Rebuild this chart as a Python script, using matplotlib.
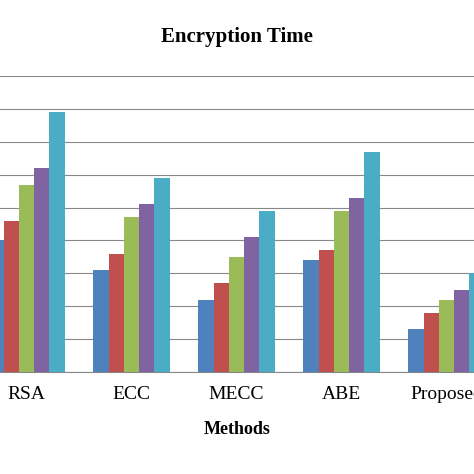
import numpy as np
import matplotlib.pyplot as plt

methods = ["RSA", "ECC", "MECC", "ABE", "Proposed"]
s1 = [4.0, 3.1, 2.2, 3.4, 1.3]
s2 = [4.6, 3.6, 2.7, 3.7, 1.8]
s3 = [5.7, 4.7, 3.5, 4.9, 2.2]
s4 = [6.2, 5.1, 4.1, 5.3, 2.5]
s5 = [7.9, 5.9, 4.9, 6.7, 3.0]
series = [s1, s2, s3, s4, s5]
colors = ["#4F81BD", "#C0504D", "#9BBB59", "#8064A2", "#4BACC6"]

plt.rcParams['font.family'] = ['Liberation Serif', 'DejaVu Serif']
fig = plt.figure(figsize=(4.74, 4.74), dpi=100)
ax = fig.add_axes([-26 / 474, 102 / 474, 525 / 474, 296 / 474])

x = np.arange(len(methods)) + 0.5
w = 0.145
for i, (vals, c) in enumerate(zip(series, colors)):
    ax.bar(x + (i - 2) * w, vals, width=w, color=c, zorder=3)

ax.set_xlim(0, 5)
ax.set_ylim(0, 9)
ax.set_yticks(range(10))
ax.set_yticklabels([])
ax.tick_params(length=0)
ax.grid(axis='y', color='#888888', linewidth=0.8, zorder=0)
ax.set_xticks(x)
ax.set_xticklabels(methods, fontsize=14)
ax.tick_params(axis='x', pad=10)
for s in ["top", "right", "left"]:
    ax.spines[s].set_visible(False)
ax.spines["bottom"].set_color('#888888')

fig.text(0.5, 1 - 37 / 474, "Encryption Time", ha='center', va='center',
         fontsize=15, fontweight='bold')
fig.text(0.5, 1 - 430 / 474, "Methods", ha='center', va='center',
         fontsize=13, fontweight='bold')

fig.savefig("out.png", dpi=100)
